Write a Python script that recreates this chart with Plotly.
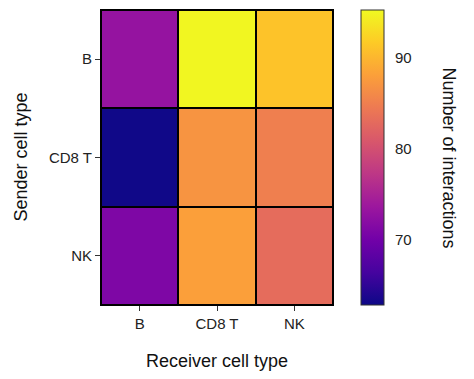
import plotly.graph_objects as go

receivers = ["B", "CD8 T", "NK"]
senders = ["B", "CD8 T", "NK"]
# rows = senders, cols = receivers
interactions = [
    [73, 95, 91],
    [63, 87, 85],
    [71, 88, 83],
]
cbar_ticks = [70, 80, 90]

fig = go.Figure(go.Heatmap(
    x=receivers, y=senders, z=interactions,
    colorscale="Plasma", zmin=62.8, zmax=95.2,
    xgap=2, ygap=2,
    colorbar=dict(
        x=1.121, xanchor="left", xpad=0, y=0.5, yanchor="middle", ypad=0,
        len=1.0, lenmode="fraction",
        thickness=23, outlinewidth=1, outlinecolor="#333",
        tickvals=cbar_ticks, ticks="outside", ticklen=8, tickcolor="white",
        tickfont=dict(size=15, color="#222"),
    ),
))

fig.update_layout(
    width=474, height=379,
    margin=dict(l=93, r=149, t=2, b=82),
    paper_bgcolor="white", plot_bgcolor="black",
    font=dict(family="Liberation Sans, Arial, sans-serif", color="#222"),
    xaxis=dict(showline=True, mirror=True, linecolor="black", linewidth=1,
               ticks="outside", ticklen=5, tickcolor="#333",
               tickfont=dict(size=15, color="#222"), showgrid=False, zeroline=False),
    yaxis=dict(autorange="reversed",
               showline=True, mirror=True, linecolor="black", linewidth=1,
               ticks="outside", ticklen=5, tickcolor="#333",
               tickfont=dict(size=15, color="#222"), showgrid=False, zeroline=False),
    annotations=[
        dict(text="Receiver cell type", xref="paper", yref="paper", x=0.5, y=-0.19,
             xanchor="center", yanchor="middle", showarrow=False,
             font=dict(size=18, color="#111")),
        dict(text="Sender cell type", xref="paper", yref="paper", x=-0.349, y=0.5,
             xanchor="center", yanchor="middle", showarrow=False, textangle=-90,
             font=dict(size=18, color="#111")),
        dict(text="Number of interactions", xref="paper", yref="paper", x=1.5, y=0.5,
             xanchor="center", yanchor="middle", showarrow=False, textangle=90,
             font=dict(size=18, color="#111")),
    ],
)

fig.write_html("out.html")
